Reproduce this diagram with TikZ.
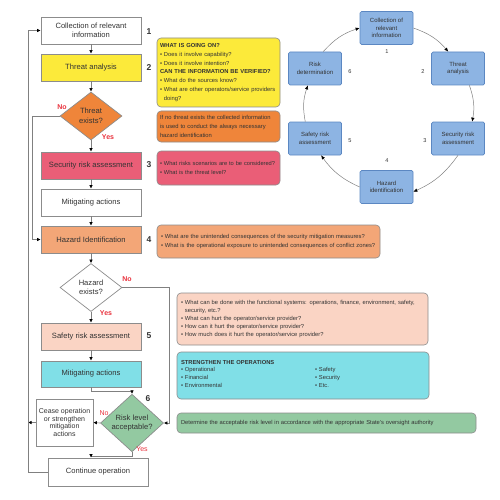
\documentclass[tikz,border=0pt]{standalone}
\usepackage{fontspec}
\setmainfont{Liberation Sans}
\usetikzlibrary{shapes.geometric,arrows.meta}
\definecolor{bord}{HTML}{8C8C8C}
\definecolor{line}{HTML}{808080}
\definecolor{txt}{HTML}{333333}
\definecolor{lab}{HTML}{E8313C}
\definecolor{yel}{HTML}{FCEA3A}
\definecolor{ora}{HTML}{EF853A}
\definecolor{pnk}{HTML}{EA5E77}
\definecolor{sal}{HTML}{F3A677}
\definecolor{pch}{HTML}{FAD4C4}
\definecolor{cya}{HTML}{80DFE7}
\definecolor{grn}{HTML}{93C9A1}
\definecolor{cycf}{HTML}{8DB4E3}
\definecolor{cycb}{HTML}{5B87C2}
\begin{document}
\begin{tikzpicture}[x=1pt,y=-1pt,
  every node/.style={text=txt},
  box/.style={draw=bord,line width=0.7pt,minimum width=100pt,minimum height=27pt,align=center,inner sep=1pt,font=\fontsize{7.6}{9.5}\selectfont},
  dia/.style={diamond,draw=bord,line width=0.7pt,minimum width=62pt,minimum height=48pt,inner sep=0pt,align=center,font=\fontsize{7.6}{9.5}\selectfont},
  note/.style={draw=bord,line width=0.6pt,rounded corners=4pt,align=left,inner xsep=4pt,inner ysep=2pt,font=\fontsize{5.8}{8.8}\selectfont},
  cyc/.style={draw=cycb,fill=cycf,line width=0.7pt,rounded corners=1.5pt,minimum width=53pt,minimum height=33pt,align=center,inner sep=1pt,font=\fontsize{6}{7.7}\selectfont},
  num/.style={font=\bfseries\fontsize{8.5}{10}\selectfont},
  cnum/.style={font=\fontsize{5.6}{6}\selectfont},
  lbl/.style={text=lab,font=\bfseries\fontsize{7}{8}\selectfont},
  arr/.style={draw=line,line width=0.6pt,-{Latex[length=3.5pt,width=3.5pt,color=black]}},
  carr/.style={draw=line,line width=0.5pt,-{Latex[length=4pt,width=3.5pt,color=black]},bend left=15}]
\useasboundingbox (0,0) rectangle (500,500);

% main flow
\node[box] (coll) at (91,30.5) {Collection of relevant\\information};
\node[box,fill=yel] (threat) at (91,67.5) {Threat analysis};
\node[dia,fill=ora] (texists) at (91,116) {Threat\\exists?};
\node[box,fill=pnk] (secr) at (91,165.5) {Security risk assessment};
\node[box] (mit1) at (91,202.5) {Mitigating actions};
\node[box,fill=sal] (hazid) at (91,239.5) {Hazard Identification};
\node[dia,fill=white] (hexists) at (91,287.5) {Hazard\\exists?};
\node[box,fill=pch] (safety) at (91,336.5) {Safety risk assessment};
\node[box,fill=cya,minimum height=26pt] (mit2) at (91,374) {Mitigating actions};
\node[dia,fill=grn,minimum width=63pt,minimum height=49pt] (risk) at (132,423) {Risk level\\acceptable?};
\node[box,minimum width=57pt,minimum height=47pt,font=\fontsize{7}{7.7}\selectfont] (cease) at (64.5,422.5) {Cease operation\\or strengthen\\mitigation\\actions};
\node[box,minimum height=28pt] (cont) at (98,472) {Continue operation};

\node[num] (n1) at (149,32) {1};
\node[num] (n2) at (149,68) {2};
\node[num] (n3) at (149,165) {3};
\node[num] (n4) at (149,240) {4};
\node[num] (n5) at (149,336) {5};
\node[num] (n6) at (148,399) {6};

\node[lbl] (noA) at (62,107) {No};
\node[lbl] (yesA) at (108,137) {Yes};
\node[lbl] (noB) at (127,279) {No};
\node[lbl] (yesB) at (106,313) {Yes};
\node[lbl,font=\fontsize{7}{8}\selectfont] (noC) at (104,413) {No};
\node[lbl,font=\fontsize{7}{8}\selectfont] (yesC) at (142,449) {Yes};

\coordinate (lpo) at (28,0);
\coordinate (lpi) at (32,0);
\coordinate (lpr) at (169,0);

\draw[arr] (coll) -- (threat);
\draw[arr] (threat) -- (texists);
\draw[arr] (texists) -- (secr);
\draw[arr] (secr) -- (mit1);
\draw[arr] (mit1) -- (hazid);
\draw[arr] (hazid) -- (hexists);
\draw[arr] (hexists) -- (safety);
\draw[arr] (safety) -- (mit2);
\draw[arr] (mit2.south) -- ++(0,4) -| (risk.north);
\draw[arr] (risk.west) -- (cease.east);
\draw[arr] (cease.west) -- (cease.west -| lpo);
\draw[arr] (risk.south) -- ++(0,4) -| (cont.north -| mit2.south);
\draw[arr] (cont.west) -- (cont.west -| lpo) |- (coll.west);
\draw[arr] (texists.west) -- (texists.west -| lpi) |- (hazid.west);
\draw[arr] (hexists.east) -- (hexists.east -| lpr) |- (risk.east);

% notes
\node[note,fill=yel,text width=117pt,inner xsep=3pt,minimum height=69pt] (qa) at (218.5,72.5)
  {\textbf{WHAT IS GOING ON?}\\• Does it involve capability?\\• Does it involve intention?\\\textbf{CAN THE INFORMATION BE VERIFIED?}\\• What do the sources know?\\• What are other operators/service providers\\\phantom{• }doing?};
\node[note,fill=ora,text width=117pt,inner xsep=3pt,minimum height=31pt] (qb) at (218.5,126.5)
  {If no threat exists the collected information\\is used to conduct the always necessary\\hazard identification};
\node[note,fill=pnk,text width=117pt,inner xsep=3pt,minimum height=34pt,font=\fontsize{5.7}{8.8}\selectfont] (qc) at (218.5,168)
  {\mbox{• What risks scenarios are to be considered?}\\• What is the threat level?};
\node[note,fill=sal,text width=215pt,minimum height=33pt] (qd) at (268.5,241.5)
  {• What are the unintended consequences of the security mitigation measures?\\• What is the operational exposure to unintended consequences of conflict zones?};
\node[note,fill=pch,text width=243pt,minimum height=52pt,font=\fontsize{5.8}{8.2}\selectfont] (qe) at (302.5,319)
  {• What can be done with the functional systems: operations, finance, environment, safety,\\\phantom{• }security, etc.?\\• What can hurt the operator/service provider?\\• How can it hurt the operator/service provider?\\• How much does it hurt the operator/service provider?};
\node[note,fill=cya,text width=244pt,minimum height=47pt,font=\fontsize{5.8}{8.2}\selectfont] (qf) at (303,375.5)
  {\textbf{STRENGTHEN THE OPERATIONS}\\
   \begin{tabular}{@{}p{134pt}@{}l@{}}
   • Operational & • Safety\\
   • Financial & • Security\\
   • Environmental & • Etc.
   \end{tabular}};
\node[note,fill=grn,text width=291pt,minimum height=20pt] (qg) at (326.5,423)
  {Determine the acceptable risk level in accordance with the appropriate State's oversight authority};

% cycle
\node[cyc] (c1) at (386.5,28) {Collection of\\relevant\\information};
\node[cyc] (c2) at (458,68.5) {Threat\\analysis};
\node[cyc] (c3) at (458,138.5) {Security risk\\assessment};
\node[cyc] (c4) at (386.5,187) {Hazard\\identification};
\node[cyc] (c5) at (315,138.5) {Safety risk\\assessment};
\node[cyc] (c6) at (315,68.5) {Risk\\determination};

\node[cnum] (k1) at (387,52) {1};
\node[cnum] (k2) at (423,72) {2};
\node[cnum] (k3) at (425,141) {3};
\node[cnum] (k4) at (387,161) {4};
\node[cnum] (k5) at (350,141) {5};
\node[cnum] (k6) at (350,72) {6};

\draw[carr] (c1.east) to (c2.120);
\draw[carr] (c2.-56) to (c3.50);
\draw[carr] (c3.south) to (c4.-10);
\draw[carr] (c4.west) to (c5.-70);
\draw[carr] (c5.120) to (c6.-113);
\draw[carr] (c6.64) to (c1.west);
\end{tikzpicture}
\end{document}
